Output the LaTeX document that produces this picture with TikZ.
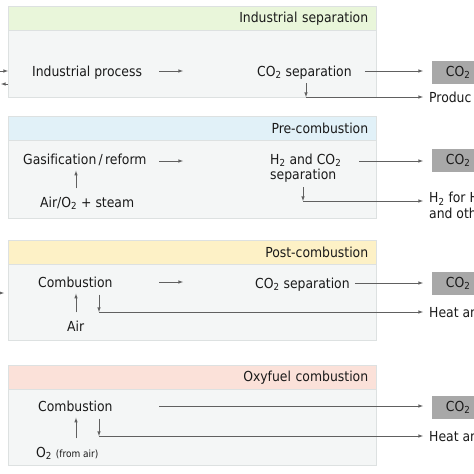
\documentclass[tikz,border=0pt]{standalone}
\usepackage{fontspec}
\setmainfont{DejaVu Sans Condensed}[Ligatures=NoCommon]
\usepackage{tikz}
\usetikzlibrary{positioning}
\definecolor{panelbg}{HTML}{F4F6F6}
\definecolor{panelline}{HTML}{DDE1E1}
\definecolor{hdgreen}{HTML}{E9F6DA}
\definecolor{hdblue}{HTML}{E1F1F8}
\definecolor{hdyellow}{HTML}{FDF1C6}
\definecolor{hdpink}{HTML}{FBE1D9}
\definecolor{boxgray}{HTML}{A8A8A8}
\definecolor{ink}{HTML}{1A1A1A}
\definecolor{flowgray}{HTML}{606060}
\newcommand{\sbs}[1]{\textsubscript{#1}}
\newcommand{\bodyfont}{\fontsize{13.8}{15.5}\selectfont}
\newcommand{\smallfont}{\fontsize{10}{12}\selectfont}
\tikzstyle{panel}=[
	rectangle,
	draw=panelline,
	fill=panelbg,
	minimum width=368,
	inner sep=0]
\tikzstyle{header}=[
	panel,
	anchor=north west,
	minimum height=24,
	inner xsep=8,
	text width=352,
	align=right,
	font=\bodyfont,
	text=ink]
\tikzstyle{proc}=[
	inner sep=0,
	anchor=west,
	align=left,
	text height=12,
	text depth=1,
	font=\bodyfont,
	text=ink]
\tikzstyle{co2box}=[
	rectangle,
	fill=boxgray,
	minimum width=52,
	minimum height=23,
	inner sep=0,
	anchor=west,
	font=\bodyfont,
	text=ink]
\tikzstyle{stream}=[
	->,
	draw=flowgray,
	line width=0.6]

\begin{document}
\begin{tikzpicture}[x=1pt,y=-1pt,>=latex]
	\useasboundingbox (0,0) rectangle (474,474);
	\clip (0,0) rectangle (474,474);
	\coordinate (in tap) at (76,0);
	\coordinate (out tap) at (99,0);
	\coordinate (stub) at (159,0);
	% industrial separation
	\begin{scope}
		\node[header,fill=hdgreen]	(ind head)	at (8,6)	{Industrial separation};
		\node[panel,minimum height=67]	(ind)	[below=0 of ind head]	{};
		\node[proc]	(ind proc)	at (32,71)	{Industrial process};
		\node[proc]	(ind sep)	at (257,71)	{CO\sbs{2} separation};
		\node[co2box]	(ind co2)	at (432,72)	{CO\sbs{2}};
		\node[proc]	(ind prod)	at (429,97)	{Produc};
		\draw[stream] (ind proc.east -| stub) -- ++(24,0);
		\draw[stream,shorten <=13pt,shorten >=9pt] (ind sep.east) -- (ind sep.east -| ind co2.west);
		\coordinate (ind tap) at (306,83);
		\draw[stream] (ind tap) -- (ind tap |- ind prod);
		\draw[stream,shorten >=6pt] (ind tap |- ind prod) -- (ind prod.west);
		\draw[stream] (-10,71) -- (ind.west |- ind proc);
		\draw[stream] (ind.west |- 0,84) -- (1,84);
	\end{scope}
	% pre-combustion
	\begin{scope}
		\node[header,fill=hdblue]	(pre head)	at (8,116)	{Pre-combustion};
		\node[panel,minimum height=78]	(pre)	[below=0 of pre head]	{};
		\node[proc]	(gasif)	at (23,159)	{Gasification\,/\,reform};
		\node[proc]	(steam)	at (40,202)	{Air/O\sbs{2} + steam};
		\node[proc,text height=,text depth=]	(pre sep)	at (270,168)	{H\sbs{2} and CO\sbs{2}\\separation};
		\node[co2box]	(pre co2)	at (432,160.5)	{CO\sbs{2}};
		\node[proc,text height=,text depth=]	(hydrogen)	at (429,205.5)	{H\sbs{2} for H\\and oth};
		\draw[stream] (gasif.east -| stub) ++(0,2) -- ++(24,0);
		\draw[stream,shorten <=7pt,shorten >=5pt] (steam.north -| in tap) -- (gasif.south -| in tap);
		\draw[stream,shorten <=18pt,shorten >=9pt] (pre sep.east |- 0,161) -- (pre co2.west |- 0,161);
		\coordinate (pre tap) at (303,187);
		\draw[stream] (pre tap) -- (pre tap |- 0,201);
		\draw[stream] (pre tap |- 0,201) -- (423,201);
	\end{scope}
	% post-combustion
	\begin{scope}
		\node[header,fill=hdyellow]	(post head)	at (8,240)	{Post-combustion};
		\node[panel,minimum height=76]	(post)	[below=0 of post head]	{};
		\node[proc]	(post comb)	at (38,282)	{Combustion};
		\node[proc]	(post air)	at (67,326)	{Air};
		\node[proc]	(post sep)	at (255,283)	{CO\sbs{2} separation};
		\node[co2box]	(post co2)	at (432,283.5)	{CO\sbs{2}};
		\node[proc]	(post heat)	at (429,312)	{Heat an};
		\draw[stream] (post comb.east -| stub) -- ++(24,0);
		\draw[stream,shorten <=5pt,shorten >=9pt] (post sep.east) -- (post sep.east -| post co2.west);
		\draw[stream,shorten <=7pt,shorten >=5pt] (post air.north -| in tap) -- (post comb.south -| in tap);
		\draw[stream,shorten <=6pt] (post comb.south -| out tap) -- (post heat.west -| out tap);
		\draw[stream,shorten >=6pt] (post heat.west -| out tap) -- (post heat.west);
		\draw[stream] (-10,293) -- (4,293);
	\end{scope}
	% oxyfuel combustion
	\begin{scope}
		\node[header,fill=hdpink]	(oxy head)	at (8,365)	{Oxyfuel combustion};
		\node[panel,minimum height=76]	(oxy)	[below=0 of oxy head]	{};
		\node[proc]	(oxy comb)	at (38,406)	{Combustion};
		\node[proc]	(oxy o2)	at (36,452)	{O\sbs{2} {\smallfont(from air)}};
		\node[co2box]	(oxy co2)	at (432,407.5)	{CO\sbs{2}};
		\node[proc]	(oxy heat)	at (429,436)	{Heat an};
		\draw[stream,shorten >=9pt] (oxy comb.east -| stub) -- (oxy comb.east -| oxy co2.west);
		\draw[stream,shorten <=7pt,shorten >=5pt] (oxy o2.north -| in tap) -- (oxy comb.south -| in tap);
		\draw[stream,shorten <=6pt] (oxy comb.south -| out tap) -- (oxy heat.west -| out tap);
		\draw[stream,shorten >=6pt] (oxy heat.west -| out tap) -- (oxy heat.west);
	\end{scope}
\end{tikzpicture}
\end{document}
